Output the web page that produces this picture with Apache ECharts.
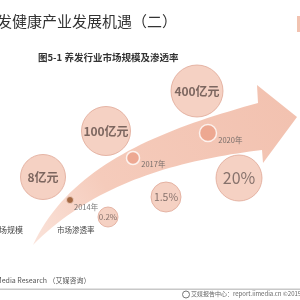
<!DOCTYPE html>
<html><head><meta charset="utf-8">
<script src="https://cdn.jsdelivr.net/npm/echarts@6/dist/echarts.min.js"></script>
<style>html,body{margin:0;padding:0;background:#fff}#c{width:300px;height:300px}</style>
</head><body><div id="c"></div>
<script>
// ---- data ----
const years = ['2014年', '2017年', '2020年'];
const marketSize = [8, 100, 400];        // 亿元
const penetration = [0.2, 1.5, 20];      // %
const legendNames = ['市场规模', '市场渗透率'];
const titleText = '发健康产业发展机遇（二）';
const subtitleText = '图5-1 养发行业市场规模及渗透率';
const sourceText = 'Media Research （艾媒咨询）';
const footerText = '艾媒报告中心：report.iimedia.cn ©2019';

// ---- layout (axis units on a hidden 300x300 layout axis) ----
const yearPos = [[70, 200], [133, 158], [208, 133]];
const sizePos = [[43, 177], [106, 131], [197, 91]];
const ratePos = [[108, 217], [166, 197], [239, 178]];
const sizeDiam = [45, 49, 52];
const rateDiam = [20, 30, 46];
const rateFont = [8, 10.5, 16];
const yearDotDiam = [7, 13, 17];
const arrowUpper = [[33, 245], [70, 165], [160, 130], [258, 103]];
const arrowHead = [[257, 85], [297, 117], [263, 163]];
const arrowLower = [[262, 150], [180, 160], [95, 182], [33, 245]];

const FONT = '"Noto Sans CJK SC", "Noto Sans", sans-serif';

function cubic(p, n) {
  const pts = [];
  for (let i = 0; i <= n; i++) {
    const t = i / n, a = (1 - t) ** 3, b = 3 * t * (1 - t) ** 2, c = 3 * t * t * (1 - t), d = t ** 3;
    pts.push([a * p[0][0] + b * p[1][0] + c * p[2][0] + d * p[3][0],
              a * p[0][1] + b * p[1][1] + c * p[2][1] + d * p[3][1]]);
  }
  return pts;
}
const arrowOutline = [].concat(cubic(arrowUpper, 40), arrowHead, cubic(arrowLower, 40));

const chart = echarts.init(document.getElementById('c'), null, {renderer: 'canvas'});
chart.setOption({
  animation: false,
  backgroundColor: '#fff',
  grid: {left: 0, right: 0, top: 0, bottom: 0},
  xAxis: {type: 'value', min: 0, max: 300, show: false},
  yAxis: {type: 'value', min: 0, max: 300, inverse: true, show: false},
  graphic: [
    {type: 'text', left: -3, top: 14, style: {text: titleText, font: '15px ' + FONT, fill: '#333'}},
    {type: 'text', left: 38, top: 53, style: {text: subtitleText, font: 'bold 9.5px ' + FONT, fill: '#333'}},
    {type: 'text', left: -9, top: 226, style: {text: legendNames[0], font: '8px ' + FONT, fill: '#444'}},
    {type: 'text', left: 57, top: 226, style: {text: legendNames[1], font: '7.5px ' + FONT, fill: '#444'}},
    {type: 'text', left: -4, top: 277, style: {text: sourceText, font: '7px ' + FONT, fill: '#555'}},
    {type: 'rect', left: 0, top: 288.5, shape: {width: 300, height: 1.5}, style: {fill: '#c8c8c8'}},
    {type: 'circle', left: 182, top: 290.5, shape: {r: 3.5}, style: {fill: '#fff', stroke: '#777', lineWidth: 1}},
    {type: 'text', left: 191, top: 290.5, style: {text: footerText, font: '6px ' + FONT, fill: '#666'}},
    {type: 'rect', left: 297, top: 16, shape: {width: 4, height: 16}, style: {fill: '#F2C2B0'}}
  ],
  series: [
    {
      type: 'custom', silent: true, z: 1,
      data: [[150, 150]],
      renderItem: function (params, api) {
        const pts = arrowOutline.map(p => api.coord(p));
        return {
          type: 'polygon', shape: {points: pts},
          style: {fill: new echarts.graphic.LinearGradient(0, 1, 1, 0, [
            {offset: 0, color: '#FAE3DA'}, {offset: 0.3, color: '#F5CBBB'}, {offset: 1, color: '#F2C1AF'}])}
        };
      }
    },
    {
      name: legendNames[0], type: 'scatter', z: 3, symbol: 'circle',
      data: sizePos.map((p, i) => ({value: p, symbolSize: sizeDiam[i]})),
      itemStyle: {color: '#F3C5B4', borderColor: '#E0A896', borderWidth: 1},
      label: {show: true, position: 'inside', formatter: p => marketSize[p.dataIndex] + '亿元',
        fontFamily: FONT, fontSize: 12, fontWeight: 'bold', color: '#5e4b46'}
    },
    {
      name: legendNames[1], type: 'scatter', z: 3, symbol: 'circle',
      data: ratePos.map((p, i) => ({value: p, symbolSize: rateDiam[i],
        label: {fontSize: rateFont[i]}})),
      itemStyle: {color: '#F3C5B4', borderColor: '#E0A896', borderWidth: 1},
      label: {show: true, position: 'inside', formatter: p => penetration[p.dataIndex] + '%',
        fontFamily: FONT, color: '#6a5a56'}
    },
    {
      name: '年份', type: 'scatter', z: 4, symbol: 'circle',
      data: yearPos.map((p, i) => ({
        value: p, symbolSize: yearDotDiam[i],
        itemStyle: i === 0 ? {color: '#8E4E22', borderColor: '#F5D5C8', borderWidth: 1}
                           : {color: '#EBA088', borderColor: '#fff', borderWidth: 1.5},
        label: {offset: i === 0 ? [-1, 7] : (i === 1 ? [0, 6] : [0, 7])}
      })),
      label: {show: true, position: 'right', distance: 1, formatter: p => years[p.dataIndex],
        fontFamily: FONT, fontSize: 7.5, color: '#555'}
    }
  ]
});
</script>
</body></html>
